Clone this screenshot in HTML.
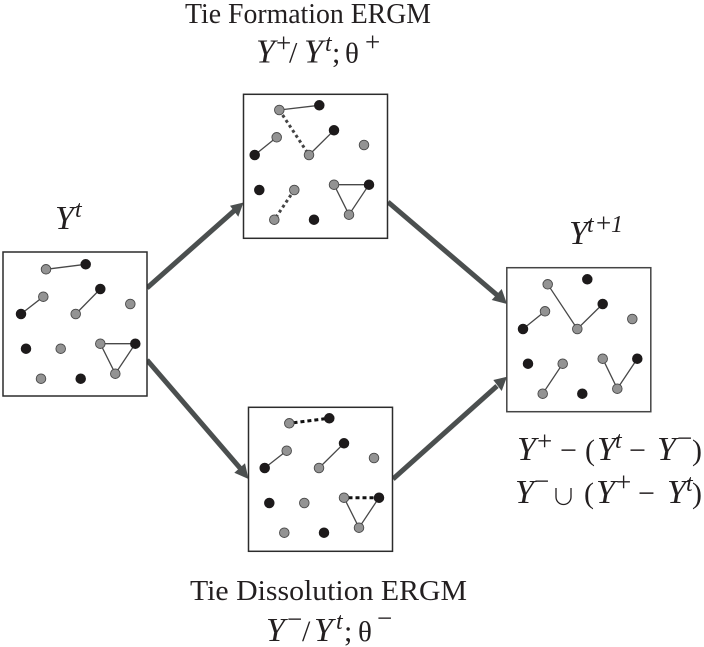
<!DOCTYPE html>
<html>
<head>
<meta charset="utf-8">
<style>
html,body{margin:0;padding:0;background:#fff;}
svg{display:block;}
text{font-family:"Liberation Serif","DejaVu Serif",serif;fill:#231f20;}
.i{font-style:italic;}
.m{font-size:30px;}
.y{font-size:34px;font-style:italic;}
.s{font-size:27px;}
.si{font-size:24px;font-style:italic;}
.g{fill:#939393;stroke:#484848;stroke-width:0.9;}
.b{fill:#1d1a1b;stroke:#1d1a1b;stroke-width:0.9;}
.l{stroke:#484848;stroke-width:1.3;fill:none;}
.box{fill:#fff;stroke:#2c2c2c;stroke-width:1.5;}
.d{stroke:#444;stroke-width:3;stroke-dasharray:3 3;fill:none;}
.dk{stroke:#111;stroke-width:3;stroke-dasharray:4 3;fill:none;}
.a{stroke:#4b4f4f;stroke-width:5;fill:none;}
.h{fill:#4b4f4f;}
</style>
</head>
<body>
<svg width="704" height="647" viewBox="0 0 704 647" xmlns="http://www.w3.org/2000/svg">
<rect width="704" height="647" fill="#fff"/>

<!-- arrows -->
<line class="a" x1="147" y1="288" x2="235" y2="210"/>
<polygon class="h" points="243.500,202.500 230,205.700 238.300,216.700"/>
<line class="a" x1="147" y1="360" x2="240" y2="468"/>
<polygon class="h" points="248.500,479 234.300,472.700 245,463.300"/>
<line class="a" x1="388" y1="202" x2="497" y2="295"/>
<polygon class="h" points="507,304 491.700,300 501.700,289"/>
<line class="a" x1="393" y1="479" x2="497" y2="386"/>
<polygon class="h" points="507,376.700 493.300,380 501.700,391"/>

<!-- left box -->
<g transform="translate(3,252)">
<rect class="box" width="144" height="144"/>
<path class="l" d="M43,17.300L82.700,12.300M40.300,44.700L18,62M72.700,62L97.300,37M97.300,91.700L132.300,91.700L112.300,121.700Z"/>
<circle class="g" cx="43" cy="17.300" r="4.800"/><circle class="b" cx="82.700" cy="12.300" r="4.800"/>
<circle class="g" cx="40.300" cy="44.700" r="4.800"/><circle class="b" cx="18" cy="62" r="4.800"/>
<circle class="g" cx="72.700" cy="62" r="4.800"/><circle class="b" cx="97.300" cy="37" r="4.800"/>
<circle class="g" cx="127.300" cy="52" r="4.800"/><circle class="b" cx="23" cy="96.700" r="4.800"/>
<circle class="g" cx="57.700" cy="96.700" r="4.800"/><circle class="g" cx="97.300" cy="91.700" r="4.800"/>
<circle class="b" cx="132.300" cy="91.700" r="4.800"/><circle class="g" cx="112.300" cy="121.700" r="4.800"/>
<circle class="g" cx="38" cy="126.700" r="4.800"/><circle class="b" cx="77.700" cy="126.700" r="4.800"/>
</g>

<!-- top box -->
<g transform="translate(243.500,94.300)">
<rect class="box" width="144" height="144"/>
<path class="l" d="M35.800,15.700L75.800,11M33.200,43L11.200,60.700M65.500,60.700L90.500,36M90.500,90.400L125.500,90.400L105.500,120.400Z"/>
<path class="d" d="M35.800,15.700L65.500,60.700M50.800,95.700L30.800,125.400"/>
<circle class="g" cx="35.800" cy="15.700" r="4.800"/><circle class="b" cx="75.800" cy="11" r="4.800"/>
<circle class="g" cx="33.200" cy="43" r="4.800"/><circle class="b" cx="11.200" cy="60.700" r="4.800"/>
<circle class="g" cx="65.500" cy="60.700" r="4.800"/><circle class="b" cx="90.500" cy="36" r="4.800"/>
<circle class="g" cx="120.500" cy="50.700" r="4.800"/><circle class="b" cx="15.800" cy="95.700" r="4.800"/>
<circle class="g" cx="50.800" cy="95.700" r="4.800"/><circle class="g" cx="90.500" cy="90.400" r="4.800"/>
<circle class="b" cx="125.500" cy="90.400" r="4.800"/><circle class="g" cx="105.500" cy="120.400" r="4.800"/>
<circle class="g" cx="30.800" cy="125.400" r="4.800"/><circle class="b" cx="70.500" cy="125.400" r="4.800"/>
</g>

<!-- bottom box -->
<g transform="translate(248.500,407.300)">
<rect class="box" width="144" height="144"/>
<path class="l" d="M38.200,43.400L16.200,60.700M70.500,60.700L95.500,36M95.500,90.400L110.500,120.400L130.500,90.400"/>
<path class="dk" d="M45,15.500L76,11.500M100,90.400L126,90.400"/>
<circle class="g" cx="40.800" cy="16" r="4.800"/><circle class="b" cx="80.800" cy="11" r="4.800"/>
<circle class="g" cx="38.200" cy="43.400" r="4.800"/><circle class="b" cx="16.200" cy="60.700" r="4.800"/>
<circle class="g" cx="70.500" cy="60.700" r="4.800"/><circle class="b" cx="95.500" cy="36" r="4.800"/>
<circle class="g" cx="125.500" cy="50.700" r="4.800"/><circle class="b" cx="20.800" cy="95.700" r="4.800"/>
<circle class="g" cx="55.800" cy="95.700" r="4.800"/><circle class="g" cx="95.500" cy="90.400" r="4.800"/>
<circle class="b" cx="130.500" cy="90.400" r="4.800"/><circle class="g" cx="110.500" cy="120.400" r="4.800"/>
<circle class="g" cx="35.800" cy="125.400" r="4.800"/><circle class="b" cx="75.500" cy="125.400" r="4.800"/>
</g>

<!-- right box -->
<g transform="translate(506.800,267.700)">
<rect class="box" width="144" height="144" style="stroke:#444"/>
<path class="l" d="M40.900,16.600L70.500,61.300L95.900,36.300M38.200,43.600L16.200,61.300M55.900,96L35.900,126M95.900,91L110.500,121L130.500,91"/>
<circle class="g" cx="40.900" cy="16.600" r="4.800"/><circle class="b" cx="80.500" cy="11.600" r="4.800"/>
<circle class="g" cx="38.200" cy="43.600" r="4.800"/><circle class="b" cx="16.200" cy="61.300" r="4.800"/>
<circle class="g" cx="70.500" cy="61.300" r="4.800"/><circle class="b" cx="95.900" cy="36.300" r="4.800"/>
<circle class="g" cx="125.500" cy="51.300" r="4.800"/><circle class="b" cx="21.200" cy="96" r="4.800"/>
<circle class="g" cx="55.900" cy="96" r="4.800"/><circle class="g" cx="95.900" cy="91" r="4.800"/>
<circle class="b" cx="130.500" cy="91" r="4.800"/><circle class="g" cx="110.500" cy="121" r="4.800"/>
<circle class="g" cx="35.900" cy="126" r="4.800"/><circle class="b" cx="75.500" cy="126" r="4.800"/>
</g>

<!-- titles -->
<text x="185" y="23" font-size="29" textLength="246" lengthAdjust="spacingAndGlyphs">Tie Formation ERGM</text>
<text x="190" y="600" font-size="29" textLength="277" lengthAdjust="spacingAndGlyphs">Tie Dissolution ERGM</text>

<!-- Y+/Yt; theta+ -->
<text class="y" x="256" y="62.500">Y</text>
<text class="s" x="276" y="52">+</text>
<text class="m" x="289" y="62.500">/</text>
<text class="y" x="304" y="62.500">Y</text>
<text class="si" x="325" y="51">t</text>
<text class="m" x="332" y="62.500">;</text>
<text x="345" y="62.500" font-size="29">θ</text>
<text class="s" x="365" y="51">+</text>

<!-- Y-/Yt; theta- -->
<text class="y" x="266" y="641">Y</text>
<text class="s" x="287" y="628">−</text>
<text class="m" x="302" y="641">/</text>
<text class="y" x="314" y="641">Y</text>
<text class="si" x="336" y="629">t</text>
<text class="m" x="344" y="641">;</text>
<text x="358" y="641" font-size="29">θ</text>
<text class="s" x="377" y="627">−</text>

<!-- Y^t -->
<text class="y" x="55" y="229">Y</text>
<text class="si" x="75" y="217">t</text>

<!-- Y^{t+1} -->
<text class="y" x="569" y="244">Y</text>
<text class="si" x="587" y="232">t</text>
<text class="s" x="596" y="232">+</text>
<text class="si" x="611" y="232">1</text>

<!-- formula 1 -->
<text class="y" x="517" y="460">Y</text>
<text class="s" x="537" y="450">+</text>
<text class="m" x="560" y="460">−</text>
<text class="m" x="585" y="460">(</text>
<text class="y" x="597" y="460">Y</text>
<text class="si" x="615" y="448">t</text>
<text class="m" x="629" y="460">−</text>
<text class="y" x="657" y="460">Y</text>
<text class="s" x="677" y="447">−</text>
<text class="m" x="692" y="460">)</text>

<!-- formula 2 -->
<text class="y" x="515" y="503">Y</text>
<text class="s" x="534" y="490">−</text>
<path d="M556,488V497A7.500,7.500 0 0 0 571,497V488" fill="none" stroke="#231f20" stroke-width="1.300"/>
<text class="m" x="584" y="503">(</text>
<text class="y" x="596" y="503">Y</text>
<text class="s" x="616" y="491">+</text>
<text class="m" x="638" y="503">−</text>
<text class="y" x="667" y="503">Y</text>
<text class="si" x="686" y="491">t</text>
<text class="m" x="692" y="503">)</text>
</svg>
</body>
</html>
